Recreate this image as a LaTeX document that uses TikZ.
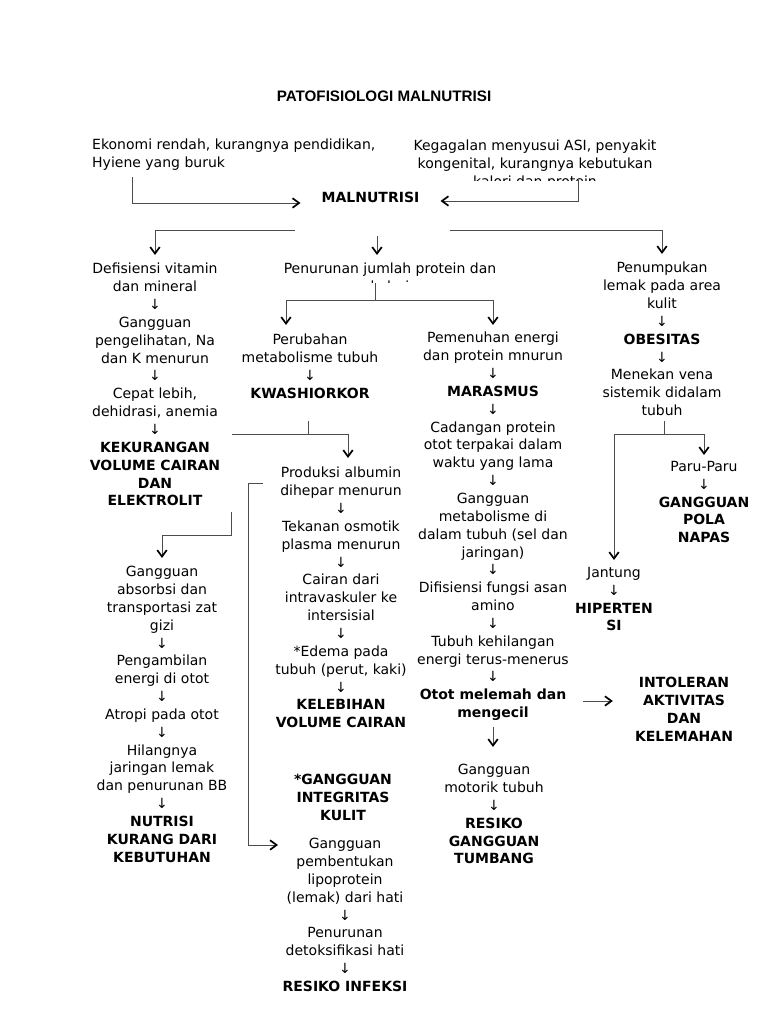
\documentclass[tikz,border=0pt]{standalone}
\usepackage{fontspec}
\setmainfont{DejaVu Sans}
\newfontfamily\titlefont{Liberation Sans}
\usetikzlibrary{arrows.meta}

\begin{document}
\begin{tikzpicture}[x=1pt, y=-1pt]
	\tikzset{box/.style = {font=\fontsize{14}{17.85}\selectfont, align=center, inner sep=0pt, anchor=north}}
	\tikzset{line/.style = {line width=0.7pt, draw=black!70}}
	\tikzset{edge/.style = {line, -{Straight Barb[length=6.5pt, width=9.5pt, line width=1.7pt, color=black]}}}
	\useasboundingbox (0, 0) rectangle (768, 1024);
	\node[font=\titlefont\bfseries\fontsize{15.2}{18}\selectfont, inner sep=0pt] (title) at (384, 96) {PATOFISIOLOGI MALNUTRISI};
	\node[box, align=left, anchor=north west] (ekonomi) at (92, 139) {Ekonomi rendah, kurangnya pendidikan,\\Hyiene yang buruk};
	\begin{scope}
		\clip (400, 130) rectangle (700, 181);
		\node[box] (kegagalan) at (535, 140) {Kegagalan menyusui ASI, penyakit\\kongenital, kurangnya kebutukan\\kalori dan protein};
	\end{scope}
	\node[box, anchor=center, inner xsep=21pt] (malnutrisi) at (370.5, 197) {\textbf{MALNUTRISI}};
	\node[box] (defisiensi) at (155, 263) {Defisiensi vitamin\\dan mineral\\↓\\Gangguan\\pengelihatan, Na\\dan K menurun\\↓\\Cepat lebih,\\dehidrasi, anemia\\↓\\\textbf{KEKURANGAN}\\\textbf{VOLUME CAIRAN}\\\textbf{DAN}\\\textbf{ELEKTROLIT}};
	\begin{scope}
		\clip (270, 250) rectangle (510, 282);
		\node[box] (penurunan) at (390, 263) {Penurunan jumlah protein dan\\kalori};
	\end{scope}
	\node[box] (penumpukan) at (662, 262) {Penumpukan\\lemak pada area\\kulit\\↓\\\textbf{OBESITAS}\\↓\\Menekan vena\\sistemik didalam\\tubuh};
	\node[box] (perubahan) at (310, 334) {Perubahan\\metabolisme tubuh\\↓\\\textbf{KWASHIORKOR}};
	\node[box] (pemenuhan) at (493, 332) {Pemenuhan energi\\dan protein mnurun\\↓\\\textbf{MARASMUS}\\↓\\Cadangan protein\\otot terpakai dalam\\waktu yang lama\\↓\\Gangguan\\metabolisme di\\dalam tubuh (sel dan\\jaringan)\\↓\\Difisiensi fungsi asan\\amino\\↓\\Tubuh kehilangan\\energi terus-menerus\\↓\\\textbf{Otot melemah dan}\\\textbf{mengecil}};
	\node[box] (produksi) at (341, 467) {Produksi albumin\\dihepar menurun\\↓\\Tekanan osmotik\\plasma menurun\\↓\\Cairan dari\\intravaskuler ke\\intersisial\\↓\\*Edema pada\\tubuh (perut, kaki)\\↓\\\textbf{KELEBIHAN}\\\textbf{VOLUME CAIRAN}};
	\node[box] (paru) at (704, 461) {Paru-Paru\\↓\\\textbf{GANGGUAN}\\\textbf{POLA}\\\textbf{NAPAS}};
	\node[box] (absorbsi) at (162, 566) {Gangguan\\absorbsi dan\\transportasi zat\\gizi\\↓\\Pengambilan\\energi di otot\\↓\\Atropi pada otot\\↓\\Hilangnya\\jaringan lemak\\dan penurunan BB\\↓\\\textbf{NUTRISI}\\\textbf{KURANG DARI}\\\textbf{KEBUTUHAN}};
	\node[box] (jantung) at (614, 567) {Jantung\\↓\\\textbf{HIPERTEN}\\\textbf{SI}};
	\node[box] (intoleran) at (684, 677) {\textbf{INTOLERAN}\\\textbf{AKTIVITAS}\\\textbf{DAN}\\\textbf{KELEMAHAN}};
	\node[box] (motorik) at (494, 764) {Gangguan\\motorik tubuh\\↓\\\textbf{RESIKO}\\\textbf{GANGGUAN}\\\textbf{TUMBANG}};
	\node[box] (integritas) at (343, 774) {\textbf{*GANGGUAN}\\\textbf{INTEGRITAS}\\\textbf{KULIT}};
	\node[box] (lipoprotein) at (345, 838) {Gangguan\\pembentukan\\lipoprotein\\(lemak) dari hati\\↓\\Penurunan\\detoksifikasi hati\\↓\\\textbf{RESIKO INFEKSI}};
	% branch points
	\coordinate (ekonomi-out) at (132, 177);
	\coordinate (kegagalan-out) at (578, 180);
	\coordinate (mal-left) at (295, 230);
	\coordinate (mal-mid) at (377, 236);
	\coordinate (mal-right) at (450, 230);
	\coordinate (protein-out) at (375, 283);
	\coordinate (protein-fork) at (375, 300);
	\coordinate (kwas-out) at (308, 421);
	\coordinate (kwas-fork) at (308, 434);
	\coordinate (kwas-end) at (232, 434);
	\coordinate (elektrolit-out) at (231, 512);
	\coordinate (albumin-out) at (263, 483);
	\coordinate (lipo-in) at (278, 845);
	\coordinate (vena-out) at (664, 421);
	\coordinate (vena-fork) at (664, 434);
	\coordinate (otot-out) at (583, 701);
	\draw[edge] (ekonomi-out) |- ([yshift=-6pt]malnutrisi.west);
	\draw[edge] (kegagalan-out) |- ([yshift=-4pt]malnutrisi.east);
	\draw[edge, shorten >=8pt] (mal-left) -| (defisiensi.north);
	\draw[edge, shorten >=8pt] (mal-mid) -- (mal-mid |- penurunan.north);
	\draw[edge, shorten >=8pt] (mal-right) -| (penumpukan.north);
	\draw[line] (protein-out) -- (protein-fork);
	\draw[edge, shorten >=9pt] (protein-fork) -| ([xshift=-24pt]perubahan.north);
	\draw[edge, shorten >=7pt] (protein-fork) -| (pemenuhan.north);
	\draw[line] (kwas-out) -- (kwas-fork) -- (kwas-end);
	\draw[edge, shorten >=9pt] (kwas-fork) -| ([xshift=7pt]produksi.north);
	\draw[edge, shorten >=8pt] (elektrolit-out) -- ++(0, 23) -| (absorbsi.north);
	\draw[edge] (albumin-out) -- ++(-15, 0) |- (lipo-in);
	\draw[line] (vena-out) -- (vena-fork);
	\draw[edge, shorten >=6pt] (vena-fork) -| (paru.north);
	\draw[edge, shorten >=7pt] (vena-fork) -| (jantung.north);
	\draw[edge, shorten <=6pt, shorten >=17pt] (pemenuhan.south) -- (pemenuhan.south |- motorik.north);
	\draw[edge, shorten >=22pt] (otot-out) -- (otot-out -| intoleran.west);
\end{tikzpicture}
\end{document}
